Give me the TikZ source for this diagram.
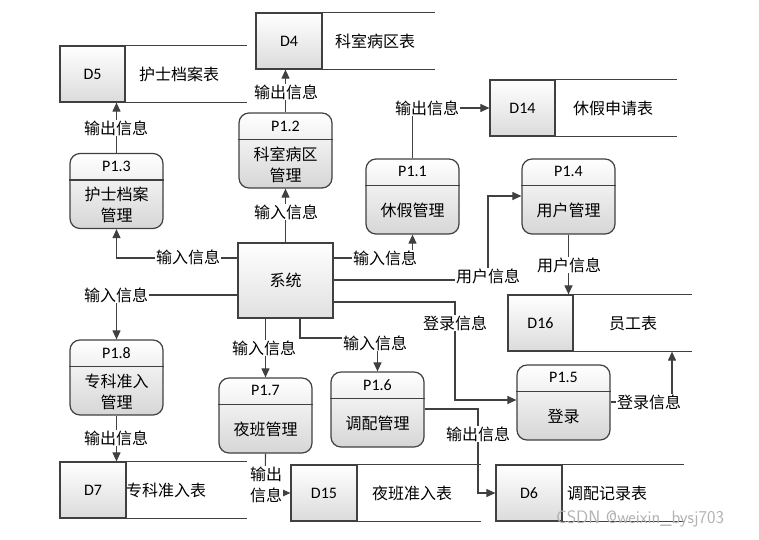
\documentclass[tikz,border=0pt]{standalone}
\usepackage{fontspec}
\setmainfont{Carlito}
\newfontfamily\cjk{Noto Sans CJK SC}
\usetikzlibrary{arrows.meta}
\definecolor{ln}{HTML}{404040}
\tikzset{
 proc/.style={draw=ln,line width=1.2pt,rounded corners=10pt,top color=white,bottom color=black!16,minimum width=93pt,minimum height=75pt,inner sep=0pt},
 idbox/.style={draw=ln,line width=1.2pt,top color=white,bottom color=black!14,minimum height=56pt,inner sep=0pt,font=\fontsize{16}{18}\selectfont},
 sysbox/.style={draw=ln,line width=1.2pt,top color=white,bottom color=black!12,minimum width=95pt,minimum height=75pt,inner sep=0pt},
 txt/.style={font=\fontsize{16}{20}\selectfont\cjk,inner sep=1pt,align=center},
 lbl/.style={txt,fill=white},
 con/.style={draw=ln,line width=1.1pt},
 arr/.style={con,-{Triangle[length=9pt,width=8pt]}},
 sline/.style={draw=ln,line width=1.2pt}
}
\newcommand\mkproc[6]{%
 \node[proc] (#1) at (#2,#3) {};
 \draw[ln,line width=1.2pt] ([yshift=-27pt]#1.north west) -- ([yshift=-27pt]#1.north east);
 \node[txt,font=\fontsize{16}{18}\selectfont] at ([yshift=-13.5pt]#1.north) {#4};
 \node[txt,align=center] at ([yshift=24pt]#1.south) {#5\\[1pt]#6};}
\newcommand\mkproctwo[5]{%
 \node[proc] (#1) at (#2,#3) {};
 \draw[ln,line width=1.2pt] ([yshift=-27pt]#1.north west) -- ([yshift=-27pt]#1.north east);
 \node[txt,font=\fontsize{16}{18}\selectfont] at ([yshift=-13.5pt]#1.north) {#4};
 \node[txt] at ([yshift=24pt]#1.south) {#5};}
% name, cx, cy, width, ID, line length, label x, label
\newcommand\mkstore[8]{%
 \node[idbox,minimum width=#4pt] (#1) at (#2,#3) {#5};
 \draw[sline] (#1.north west) -- ++(#6pt,0);
 \draw[sline] (#1.south west) -- ++(#6pt,0);
 \node[txt,anchor=west] at (#7,#3) {#8};}
\begin{document}
\begin{tikzpicture}[x=1pt,y=-1pt]
\useasboundingbox (0,0) rectangle (759,539);
% stores
\mkstore{d4}{289}{41}{66}{D4}{180}{334}{科室病区表}
\mkstore{d5}{92.5}{74}{65}{D5}{188}{138}{护士档案表}
\mkstore{d14}{522.5}{108}{65}{D14}{188}{572}{休假申请表}
\mkstore{d16}{540.5}{323}{65}{D16}{185}{608}{员工表}
\mkstore{d7}{93}{490}{66}{D7}{188}{125}{专科准入表}
\mkstore{d15}{324}{493}{66}{D15}{191}{371}{夜班准入表}
\mkstore{d6}{529}{493}{66}{D6}{189}{566}{调配记录表}
% processes
\mkproc{p12}{285.5}{150.5}{P1.2}{科室病区}{管理}
\mkproc{p13}{116.5}{191}{P1.3}{护士档案}{管理}
\mkproctwo{p11}{412.5}{196.5}{P1.1}{休假管理}
\mkproctwo{p14}{568.5}{196.5}{P1.4}{用户管理}
\mkproc{p18}{116.5}{377.5}{P1.8}{专科准入}{管理}
\mkproctwo{p17}{265.5}{415.5}{P1.7}{夜班管理}
\mkproctwo{p16}{377.5}{409.5}{P1.6}{调配管理}
\mkproctwo{p15}{563.5}{402.5}{P1.5}{登录}
\node[sysbox] (sys) at (285.5,280.5) {};
\node[txt] at (sys.center) {系统};
% connectors
\draw[arr] (p13.north) -- (d5.south -| p13.north);
\node[lbl] at (116,128) {输出信息};
\draw[arr] (p12.north) -- (d4.south -| p12.north);
\node[lbl] at (286,92) {输出信息};
\draw[arr] (sys.north -| p12.south) -- (p12.south);
\node[lbl] at (286,212) {输入信息};
\draw[arr] (sys.west |- 0,258) -| (p13.south);
\node[lbl] at (188,257) {输入信息};
\draw[arr] (sys.east |- 0,258) -| (p11.south);
\node[lbl] at (385,258) {输入信息};
\draw[arr] (p11.north) |- (d14.west);
\node[lbl] at (427,108) {输出信息};
\draw[arr] (sys.east |- 0,280) -- (488,280) |- (p14.west |- 0,196);
\node[lbl] at (488,276) {用户信息};
\draw[arr] (p14.south) -- (d16.north -| p14.south);
\node[lbl] at (569,265) {用户信息};
\draw[arr] (sys.east |- 0,302) -- (455,302) |- (p15.west |- 0,400);
\node[lbl] at (455,323) {登录信息};
\draw[arr] (p15.east |- 0,402) -- (672,402) -- (d16.south -| 672,0);
\node[lbl] at (649,402) {登录信息};
\draw[arr] (sys.west |- 0,295) -| (p18.north);
\node[lbl] at (116,295) {输入信息};
\draw[arr] (p18.south) -- (d7.north -| p18.south);
\node[lbl] at (116,438) {输出信息};
\draw[arr] (sys.south -| p17.north) -- (p17.north);
\node[lbl] at (264,348) {输入信息};
\draw[arr] (sys.south -| 300,0) -- (300,338) -| (p16.north);
\node[lbl] at (375,343) {输入信息};
\draw[arr] (p17.south) -- (265,493) -- (d15.west);
\node[lbl,align=center,font=\fontsize{16}{21}\selectfont\cjk] at (266,485) {输出\\信息};
\draw[arr] (p16.east |- 0,409) -- (478,409) |- (d6.west);
\node[lbl] at (478,434) {输出信息};
\node[font=\fontsize{18}{20}\selectfont\sffamily,text=black!30] at (640,519) {CSDN @weixin\_bysj703};
\end{tikzpicture}
\end{document}
